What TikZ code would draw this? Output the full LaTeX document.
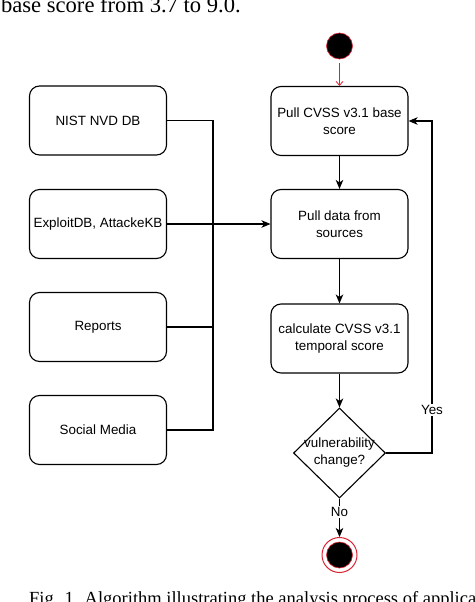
\documentclass[tikz,border=0pt]{standalone}
\usepackage{fontspec}
\setmainfont{Liberation Sans}
\newfontfamily\seriffont{Liberation Serif}
\usetikzlibrary{shapes.geometric,arrows.meta}
\definecolor{umlred}{RGB}{222,34,52}
\begin{document}
\begin{tikzpicture}[x=1pt,y=-1pt,
  box/.style={draw, line width=1.1pt, rounded corners=10pt, minimum width=137pt, minimum height=69pt, align=center, font=\fontsize{13.4}{17}\selectfont, inner sep=2pt},
  conn/.style={line width=1.1pt, -{Stealth[length=9pt,width=7.5pt,inset=2.5pt]}},
  plainline/.style={line width=1.1pt},
  lbl/.style={fill=white, inner sep=1pt, font=\fontsize{13.4}{17}\selectfont},
  dot/.style={circle, fill=black, draw=umlred, line width=0.6pt, minimum size=26pt, inner sep=0pt},
]
\useasboundingbox (0,0) rectangle (474,602);

% surrounding page text
\node[anchor=base east, font=\seriffont\fontsize{22.6}{27}\selectfont, inner sep=0pt] (toptext) at (241,12.5) {base score from 3.7 to 9.0.};
\node[anchor=base west, font=\seriffont\fontsize{18.5}{22}\selectfont, inner sep=0pt] (caption) at (29,604) {Fig. 1. Algorithm illustrating the analysis process of applica};

% main flow
\node[dot] (start) at (339.5,46) {};
\node[box] (b1) at (339.5,121) {Pull CVSS v3.1 base\\score};
\node[box] (b2) at (339.5,224) {Pull data from\\sources};
\node[box] (b3) at (339.5,338.5) {calculate CVSS v3.1\\temporal score};
\node[diamond, draw, line width=1.1pt, minimum width=92pt, minimum height=90pt, inner sep=0pt,
      label={[align=center, font=\fontsize{13.4}{17}\selectfont]center:vulnerability\\change?}] (dec) at (339.5,453) {};
\node[circle, draw=umlred, line width=1pt, fill=white, minimum size=35pt, inner sep=0pt] (endring) at (339.5,555) {};
\node[dot] (enddot) at (endring) {};

% sources
\node[box] (n1) at (98,120.5) {NIST NVD DB};
\node[box] (n2) at (98,224) {ExploitDB, AttackeKB};
\node[box] (n3) at (98,327) {Reports};
\node[box] (n4) at (98,430) {Social Media};

\coordinate (bus) at (213,0);
\coordinate (yesx) at (432,0);

\draw[umlred, line width=0.8pt, shorten <=4pt, -{Straight Barb[length=4pt,width=7pt]}] (start) -- (b1);
\draw[conn] (b1) -- (b2);
\draw[conn] (b2) -- (b3);
\draw[conn] (b3) -- (dec);
\draw[conn] (dec) -- node[lbl, pos=0.35] {No} (endring);
\draw[conn] (dec.east) -- (dec.east -| yesx) -- node[lbl, pos=0.13] {Yes} (yesx |- b1.east) -- (b1.east);

\draw[plainline] (n1.east) -- (n1.east -| bus) -- (n4.east -| bus) -- (n4.east);
\draw[plainline] (n3.east) -- (n3.east -| bus);
\draw[conn] (n2.east) -- (b2.west);
\end{tikzpicture}
\end{document}
